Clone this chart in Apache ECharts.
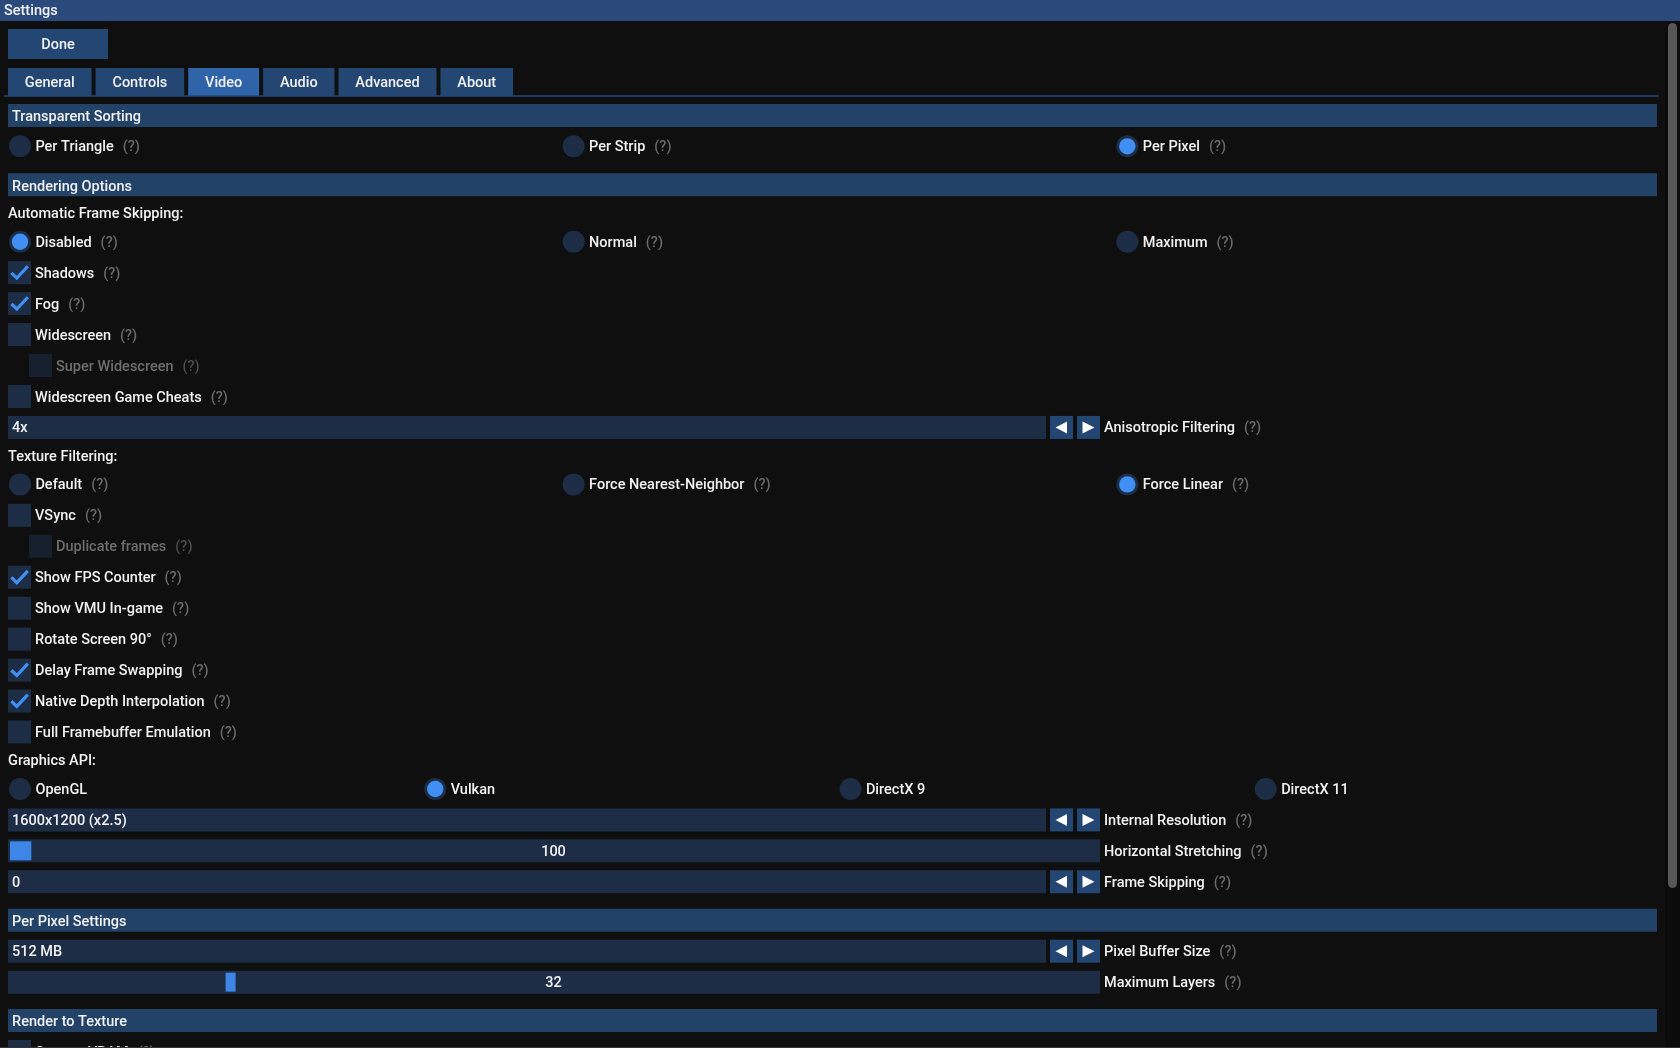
<!DOCTYPE html>
<html>
<head>
<meta charset="UTF-8">
<title>Settings</title>
<script src="https://cdn.jsdelivr.net/npm/echarts@6/dist/echarts.min.js"></script>
<style>
html, body { margin: 0; padding: 0; background: #0f0f0f; }
#chartArea { width: 1680px; height: 1048px; }
</style>
</head>
<body>
<div id="chartArea"></div>
<script>
var windowTitle = 'Settings';
var doneLabel = 'Done';
var tabLabels = ['General', 'Controls', 'Video', 'Audio', 'Advanced', 'About'];
var tabChosen = 2;

var sectionTitles = ['Transparent Sorting', 'Rendering Options', 'Per Pixel Settings', 'Render to Texture'];

var sortingOptions = ['Per Triangle', 'Per Strip', 'Per Pixel'];
var sortingChosen = 2;
var frameSkipOptions = ['Disabled', 'Normal', 'Maximum'];
var frameSkipChosen = 0;
var textureOptions = ['Default', 'Force Nearest-Neighbor', 'Force Linear'];
var textureChosen = 2;
var apiOptions = ['OpenGL', 'Vulkan', 'DirectX 9', 'DirectX 11'];
var apiChosen = 1;

var screenChecks = ['Shadows', 'Fog', 'Widescreen', 'Super Widescreen', 'Widescreen Game Cheats'];
var screenChecked = [1, 1, 0, 0, 0];
var screenDisabled = [0, 0, 0, 1, 0];
var syncChecks = ['VSync', 'Duplicate frames', 'Show FPS Counter', 'Show VMU In-game', 'Rotate Screen 90°',
    'Delay Frame Swapping', 'Native Depth Interpolation', 'Full Framebuffer Emulation'];
var syncChecked = [0, 0, 1, 0, 0, 1, 1, 0];
var syncDisabled = [0, 1, 0, 0, 0, 0, 0, 0];

var stretchRange = [100, 150];
var stretchValue = 100;
var layersRange = [8, 128];
var layersValue = 32;

var bg = '#0f0f0f', titleBlue = '#2a4a7c', headBlue = '#234268', btnBlue = '#244672', activeBlue = '#2f64a8';
var field = '#1d2d46', fieldOff = '#16202f', accent = '#3f8ff5', thumb = '#3d85e6';
var white = '#f2f2f2', dim = '#6e6e6e', helpCol = '#6a6a6a';
var font = '500 14.5px Roboto, sans-serif';

var measure = document.createElement('canvas').getContext('2d');
measure.font = font;
function textW(s) { return measure.measureText(s).width; }

var els = [];
function rect(x, y, w, h, fill, r) {
    els.push({ type: 'rect', silent: true, shape: { x: x, y: y, width: w, height: h, r: r || 0 }, style: { fill: fill } });
}
function label(s, x, y, fill, align) {
    els.push({ type: 'text', silent: true, style: { text: s, x: x, y: y + 1.4, fill: fill || white, font: font, align: align || 'left', verticalAlign: 'middle' } });
}
function circle(x, y, r, fill) {
    els.push({ type: 'circle', silent: true, shape: { cx: x, cy: y, r: r }, style: { fill: fill } });
}
function tri(a, b, c) {
    els.push({ type: 'polygon', silent: true, shape: { points: [a, b, c] }, style: { fill: '#ffffff' } });
}
function withHelp(s, x, y, fill) {
    label(s, x, y, fill);
    label('(?)', x + textW(s) + 9, y, fill === dim ? '#4c4c4c' : helpCol);
}

// cursor walks down the page the way the UI lays out its rows
var rowH = 22.95, textH = 18, gap = 8, left = 8, right = 1657;
var cursor = 103.9;
function nextRow(h) {
    var y = cursor + h / 2;
    cursor += h + gap;
    return y;
}
function section(title, first) {
    if (!first) cursor += 7.5;
    var y = nextRow(rowH);
    rect(left, y - 11.5, right - left, 23, headBlue);
    label(title, left + 4, y + 0.7);
}
function caption(s) {
    label(s, left, nextRow(textH));
}
function radios(opts, chosen, noHelp) {
    var y = nextRow(rowH), colW = 1661 / opts.length;
    opts.forEach(function (s, i) {
        var x = 20 + i * colW;
        circle(x, y, 11, field);
        if (i === chosen) circle(x, y, 8.2, accent);
        if (noHelp) label(s, x + 15.4, y);
        else withHelp(s, x + 15.4, y);
    });
}
function checks(names, on, off) {
    names.forEach(function (s, i) {
        var y = nextRow(rowH), x = off[i] ? left + 21 : left;
        rect(x, y - 11.5, 23, 23, off[i] ? fieldOff : field);
        if (on[i]) {
            els.push({ type: 'polyline', silent: true,
                shape: { points: [[x + 3.4, y + 0.2], [x + 8.8, y + 5.4], [x + 19.8, y - 6.4]] },
                style: { stroke: accent, lineWidth: 3.2, fill: null } });
        }
        withHelp(s, x + 27, y, off[i] ? dim : white);
    });
}
function picker(value, name) {
    var y = nextRow(rowH);
    rect(left, y - 11.5, 1038, 23, field);
    label(value, left + 4, y);
    rect(1050, y - 11.5, 23, 23, btnBlue);
    rect(1077, y - 11.5, 23, 23, btnBlue);
    tri([1055.5, y], [1067, y - 6], [1067, y + 6]);
    tri([1082.5, y - 6], [1094.5, y], [1082.5, y + 6]);
    withHelp(name, 1104, y);
}
function slider(value, range, name) {
    var y = nextRow(rowH), grab = Math.max(1088 / (range[1] - range[0] + 1), 10);
    var x = echarts.number.linearMap(value, range, [left + 2, 1098 - grab], true);
    rect(left, y - 11.5, 1092, 23, field);
    rect(x, y - 9.5, grab, 19, thumb);
    label(String(value), 553.5, y, white, 'center');
    withHelp(name, 1104, y);
}

// window chrome
rect(0, 0, 1680, 21, titleBlue);
label(windowTitle, 4, 10);
rect(1665, 21, 15, 1027, '#0b0b0b');
rect(1668, 23, 9, 865, '#565656', 4.5);
rect(left, 29, 100, 30, btnBlue);
label(doneLabel, 58, 43.5, white, 'center');

var tabX = left;
tabLabels.forEach(function (s, i) {
    var w = textW(s) + 33.7;
    rect(tabX, 68, w, 27.5, i === tabChosen ? activeBlue : btnBlue);
    label(s, tabX + w / 2, 81.8, white, 'center');
    tabX += w + 4;
});
rect(4, 95.5, 1655, 1, activeBlue);

section(sectionTitles[0], true);
radios(sortingOptions, sortingChosen);
section(sectionTitles[1]);
caption('Automatic Frame Skipping:');
radios(frameSkipOptions, frameSkipChosen);
checks(screenChecks, screenChecked, screenDisabled);
picker('4x', 'Anisotropic Filtering');
caption('Texture Filtering:');
radios(textureOptions, textureChosen);
checks(syncChecks, syncChecked, syncDisabled);
caption('Graphics API:');
radios(apiOptions, apiChosen, true);
picker('1600x1200 (x2.5)', 'Internal Resolution');
slider(stretchValue, stretchRange, 'Horizontal Stretching');
picker('0', 'Frame Skipping');
section(sectionTitles[2]);
picker('512 MB', 'Pixel Buffer Size');
slider(layersValue, layersRange, 'Maximum Layers');
section(sectionTitles[3]);
checks(['Copy to VRAM'], [0], [0]);
rect(0, 1047, 1680, 1, '#333333');

var myChart = echarts.init(document.getElementById('chartArea'));
myChart.setOption({
    backgroundColor: bg,
    animation: false,
    graphic: { elements: els }
});
</script>
</body>
</html>
